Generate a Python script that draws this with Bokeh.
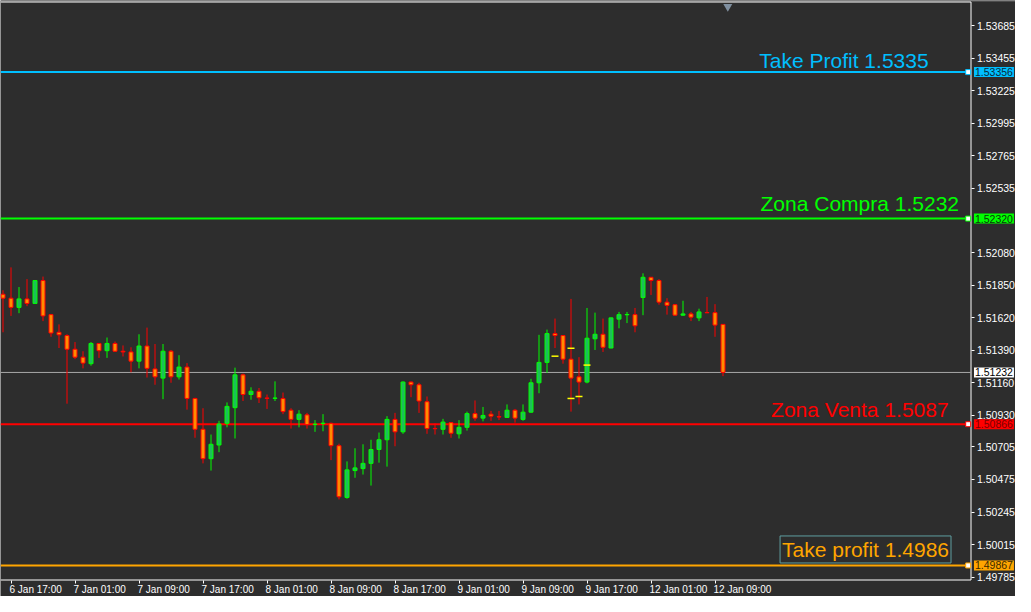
from bokeh.plotting import figure
from bokeh.models import ColumnDataSource, Range1d, FixedTicker, PrintfTickFormatter, Label
from bokeh.embed import file_html
from bokeh.resources import INLINE

# ---------------- data ----------------
opens = [1.51785,1.51757,1.51692,1.51752,1.51720,1.51882,1.51641,1.51516,1.51493,1.51396,
 1.51340,1.51294,1.51437,1.51386,1.51437,1.51382,1.51377,1.51312,1.51419,1.51257,
 1.51192,1.51382,1.51201,1.51270,1.51048,1.50830,1.50622,1.50719,1.50872,1.50983,
 1.51215,1.51076,1.51099,1.51051,1.51049,1.51048,1.50965,1.50900,1.50932,1.50864,
 1.50871,1.50872,1.50714,1.50348,1.50538,1.50552,1.50589,1.50687,1.50756,1.50900,
 1.50812,1.51164,1.51145,1.51025,1.50836,1.50830,1.50877,1.50798,1.50844,1.50941,
 1.50909,1.50937,1.50919,1.50914,1.50965,1.50900,1.50951,1.51159,1.51303,1.51507,
 1.51493,1.51326,1.51201,1.51164,1.51470,1.51502,1.51405,1.51609,1.51640,1.51641,
 1.51762,1.51905,1.51882,1.51729,1.51711,1.51637,1.51646,1.51618,1.51656,1.51655,
 1.51572]
closes = [1.51757,1.51692,1.51752,1.51720,1.51882,1.51632,1.51511,1.51498,1.51396,1.51340,
 1.51298,1.51437,1.51386,1.51437,1.51382,1.51377,1.51312,1.51419,1.51261,1.51201,
 1.51382,1.51201,1.51270,1.51048,1.50830,1.50622,1.50724,1.50867,1.50992,1.51215,
 1.51076,1.51099,1.51053,1.51049,1.51051,1.50955,1.50900,1.50937,1.50863,1.50866,
 1.50873,1.50714,1.50353,1.50543,1.50557,1.50589,1.50687,1.50756,1.50900,1.50812,
 1.51164,1.51145,1.51030,1.50835,1.50834,1.50881,1.50802,1.50844,1.50941,1.50909,
 1.50928,1.50923,1.50917,1.50965,1.50909,1.50951,1.51159,1.51303,1.51507,1.51493,
 1.51326,1.51192,1.51164,1.51474,1.51502,1.51410,1.51618,1.51641,1.51642,1.51562,
 1.51905,1.51882,1.51729,1.51706,1.51637,1.51646,1.51623,1.51660,1.51654,1.51567,
 1.51232]
highs = [1.51813,1.51975,1.51836,1.51892,1.51884,1.51910,1.51646,1.51572,1.51502,1.51447,
 1.51382,1.51447,1.51440,1.51479,1.51451,1.51423,1.51410,1.51502,1.51549,1.51433,
 1.51433,1.51391,1.51354,1.51298,1.51053,1.50979,1.50793,1.50890,1.51020,1.51266,
 1.51224,1.51127,1.51122,1.51076,1.51169,1.51090,1.50979,1.50965,1.50946,1.50895,
 1.50937,1.50877,1.50728,1.50603,1.50696,1.50724,1.50756,1.50807,1.50923,1.50946,
 1.51169,1.51169,1.51159,1.51062,1.50872,1.50904,1.50881,1.50895,1.50955,1.51034,
 1.50988,1.50960,1.50960,1.51006,1.50974,1.51006,1.51187,1.51498,1.51535,1.51613,
 1.51496,1.51752,1.51340,1.51688,1.51655,1.51613,1.51620,1.51660,1.51660,1.51688,
 1.51933,1.51907,1.51892,1.51757,1.51715,1.51739,1.51660,1.51683,1.51766,1.51715,
 1.51574]
lows = [1.51516,1.51632,1.51651,1.51701,1.51718,1.51595,1.51484,1.51405,1.51011,1.51326,
 1.51261,1.51280,1.51335,1.51335,1.51377,1.51345,1.51233,1.51261,1.51196,1.51145,
 1.51043,1.51159,1.51182,1.50969,1.50770,1.50589,1.50538,1.50668,1.50844,1.50765,
 1.51030,1.51039,1.51016,1.50974,1.51030,1.50937,1.50835,1.50844,1.50835,1.50812,
 1.50816,1.50612,1.50334,1.50339,1.50487,1.50510,1.50432,1.50594,1.50566,1.50710,
 1.50798,1.51057,1.50946,1.50798,1.50793,1.50793,1.50770,1.50765,1.50821,1.50890,
 1.50886,1.50890,1.50895,1.50914,1.50877,1.50890,1.50946,1.51085,1.51229,1.51405,
 1.51294,1.50955,1.51006,1.51155,1.51391,1.51377,1.51403,1.51544,1.51581,1.51516,
 1.51637,1.51780,1.51711,1.51641,1.51632,1.51632,1.51595,1.51595,1.51651,1.51484,
 1.51206]

time_tick_pos = [1, 9, 17, 25, 33, 41, 49, 57, 65, 73, 81, 89]
time_tick_labels = ["6 Jan 17:00", "7 Jan 01:00", "7 Jan 09:00", "7 Jan 17:00",
                    "8 Jan 01:00", "8 Jan 09:00", "8 Jan 17:00", "9 Jan 01:00",
                    "9 Jan 09:00", "9 Jan 17:00", "12 Jan 01:00", "12 Jan 09:00"]

price_ticks = [1.53685, 1.53455, 1.53225, 1.52995, 1.52765, 1.52535, 1.52080, 1.51850,
               1.51620, 1.51390, 1.51160, 1.50930, 1.50705, 1.50475, 1.50245, 1.50015, 1.49785]

level_prices = [1.53356, 1.52320, 1.50866, 1.49867]
level_names = ["Take Profit 1.5335", "Zona Compra 1.5232", "Zona Venta 1.5087", "Take profit 1.4986"]
level_colors = ["#00BFFF", "#00FF00", "#FF0000", "#FFA500"]
level_tag_text = ["#0A2A3A", "#0A3A0A", "#7A0000", "#3A2A00"]
level_label_x = [115.7, 119.5, 118.2, 118.5]
level_label_dy = [12, 15, 15, 16]

bid_price = 1.51232

mark_x = [69, 71, 71, 72, 73]
mark_y = [1.51347, 1.51403, 1.51048, 1.51062, 1.51284]

# ---------------- styles / layout ----------------
BG = "#2D2D2D"
BULL_FILL, BULL_LINE = "#1EBE5A", "#00FF00"
BEAR_FILL, BEAR_LINE = "#FF8C00", "#FF0000"
FONT = "Liberation Sans"
W, H = 1015, 596
PX = 8.0                          # pixels per candle
PY = 14385.0 * 578 / 588          # pixels per price unit
X0 = -2.5 / PX
X1 = X0 + W / PX
X_AXIS = X0 + 970.5 / PX          # price scale line position
Y1 = 1.538518 + 1.5 / PY
Y0 = Y1 - H / PY
Y_TOP = Y1 - 1.5 / PY             # top border of the chart area
Y_AXIS = Y1 - 579.5 / PY          # time scale line position
XFS = 10                          # x label font px

n = len(opens)
idx = list(range(n))
bull = [c >= o for o, c in zip(opens, closes)]
src = ColumnDataSource(dict(
    x=idx, o=opens, c=closes, h=highs, l=lows,
    top=[max(o, c) for o, c in zip(opens, closes)],
    bot=[min(o, c) for o, c in zip(opens, closes)],
    fill=[BULL_FILL if b else BEAR_FILL for b in bull],
    line=[BULL_LINE if b else BEAR_LINE for b in bull],
))

p = figure(width=W, height=H, output_backend="svg", toolbar_location=None,
           x_range=Range1d(X0, X1), y_range=Range1d(Y0, Y1),
           y_axis_location="right", min_border_left=0, min_border_top=0,
           min_border_right=0, min_border_bottom=0)
p.background_fill_color = BG
p.border_fill_color = BG
p.outline_line_color = None
p.grid.visible = False

# price axis, drawn at the right edge of the chart area
ya = p.yaxis[0]
ya.fixed_location = X_AXIS
ya.ticker = FixedTicker(ticks=price_ticks)
ya.formatter = PrintfTickFormatter(format="%.5f")
ya.axis_line_color = None
ya.major_tick_line_color = "#FFFFFF"
ya.major_tick_out = 3
ya.major_tick_in = 0
ya.minor_tick_line_color = None
ya.major_label_text_color = "#FFFFFF"
ya.major_label_text_font = FONT
ya.major_label_text_font_size = "10.5px"
ya.major_label_standoff = 3

# time axis: tick marks (minor) at bars, labels shifted so they start at the tick
def text_em(s):
    return sum(0.556 if ch.isdigit() or ch in "an" else 0.5 if ch == "J" else 0.278 for ch in s)

label_pos = [round(t + (text_em(s) * XFS / 2 - 1.5) / PX, 4) for t, s in zip(time_tick_pos, time_tick_labels)]
xa = p.xaxis[0]
xa.fixed_location = Y_AXIS
xa.ticker = FixedTicker(ticks=label_pos, minor_ticks=time_tick_pos)
xa.major_label_overrides = {k: v for k, v in zip(label_pos, time_tick_labels)}
xa.axis_line_color = None
xa.major_tick_line_color = None
xa.major_tick_out = 0
xa.major_tick_in = 0
xa.minor_tick_line_color = "#FFFFFF"
xa.minor_tick_out = 3
xa.minor_tick_in = 0
xa.major_label_text_color = "#FFFFFF"
xa.major_label_text_font = FONT
xa.major_label_text_font_size = f"{XFS}px"
xa.major_label_standoff = 1

# top strip
p.segment(x0=[X0], y0=[Y1], x1=[X1], y1=[Y1], line_color="#6E6E6E", line_width=2)
# chart frame: top, bottom and right borders of the chart area
p.segment(x0=[X0, X0, X_AXIS], y0=[Y_TOP, Y_AXIS, Y_AXIS], x1=[X_AXIS, X_AXIS, X_AXIS],
          y1=[Y_TOP, Y_AXIS, Y_TOP], line_color="#FFFFFF", line_width=1)

# level lines
lsrc = ColumnDataSource(dict(x0=[X0] * len(level_prices), x1=[X_AXIS] * len(level_prices),
                             y=level_prices, color=level_colors))
p.segment(x0="x0", y0="y", x1="x1", y1="y", line_color="color", line_width=2, source=lsrc)
p.segment(x0=[X0], y0=[bid_price], x1=[X_AXIS], y1=[bid_price], line_color="#A8A8A8", line_width=1)

# candles
p.segment(x0="x", y0="l", x1="x", y1="h", line_color="line", line_width=1, source=src)
p.vbar(x="x", top="top", bottom="bot", width=0.5, fill_color="fill",
       line_color="line", line_width=1, source=src)

# small trade marks
p.scatter(x=mark_x, y=mark_y, marker="dash", size=7, line_color="#FFFF00", line_width=1.5)

# level texts
for name, price, col, lx, dy in zip(level_names, level_prices, level_colors, level_label_x, level_label_dy):
    is_box = name.startswith("Take profit")
    lab = Label(x=lx, y=price, text=name, text_color=col, text_font=FONT,
                text_font_size="21px", text_align="right", text_baseline="alphabetic",
                y_offset=dy)
    if is_box:
        lab.border_line_color = "#5F9EA0"
        lab.border_line_width = 1
        lab.padding = 2
    p.add_layout(lab)

# price tags on the right scale
tags = list(zip(level_prices, level_colors, level_tag_text)) + [(bid_price, "#FFFFFF", "#000000")]
for price, col, tcol in tags:
    p.add_layout(Label(x=X_AXIS, y=price, x_offset=3, text=f"{price:.5f}", text_color=tcol,
                       text_font=FONT, text_font_size="10.5px", text_baseline="middle",
                       text_align="left", background_fill_color=col, padding=1))

# small squares at the line ends
p.scatter(x=[X_AXIS - 0.35] * len(level_prices), y=level_prices, marker="square", size=5,
          fill_color="#FFFFFF", line_color=level_colors, line_width=1)

# chart-shift triangle at the top
p.scatter(x=[n - 0.4], y=[Y1 - 6 / PY], marker="inverted_triangle", size=9,
          fill_color="#8090A0", line_color=None)

open("out.html", "w").write(file_html(p, INLINE))
